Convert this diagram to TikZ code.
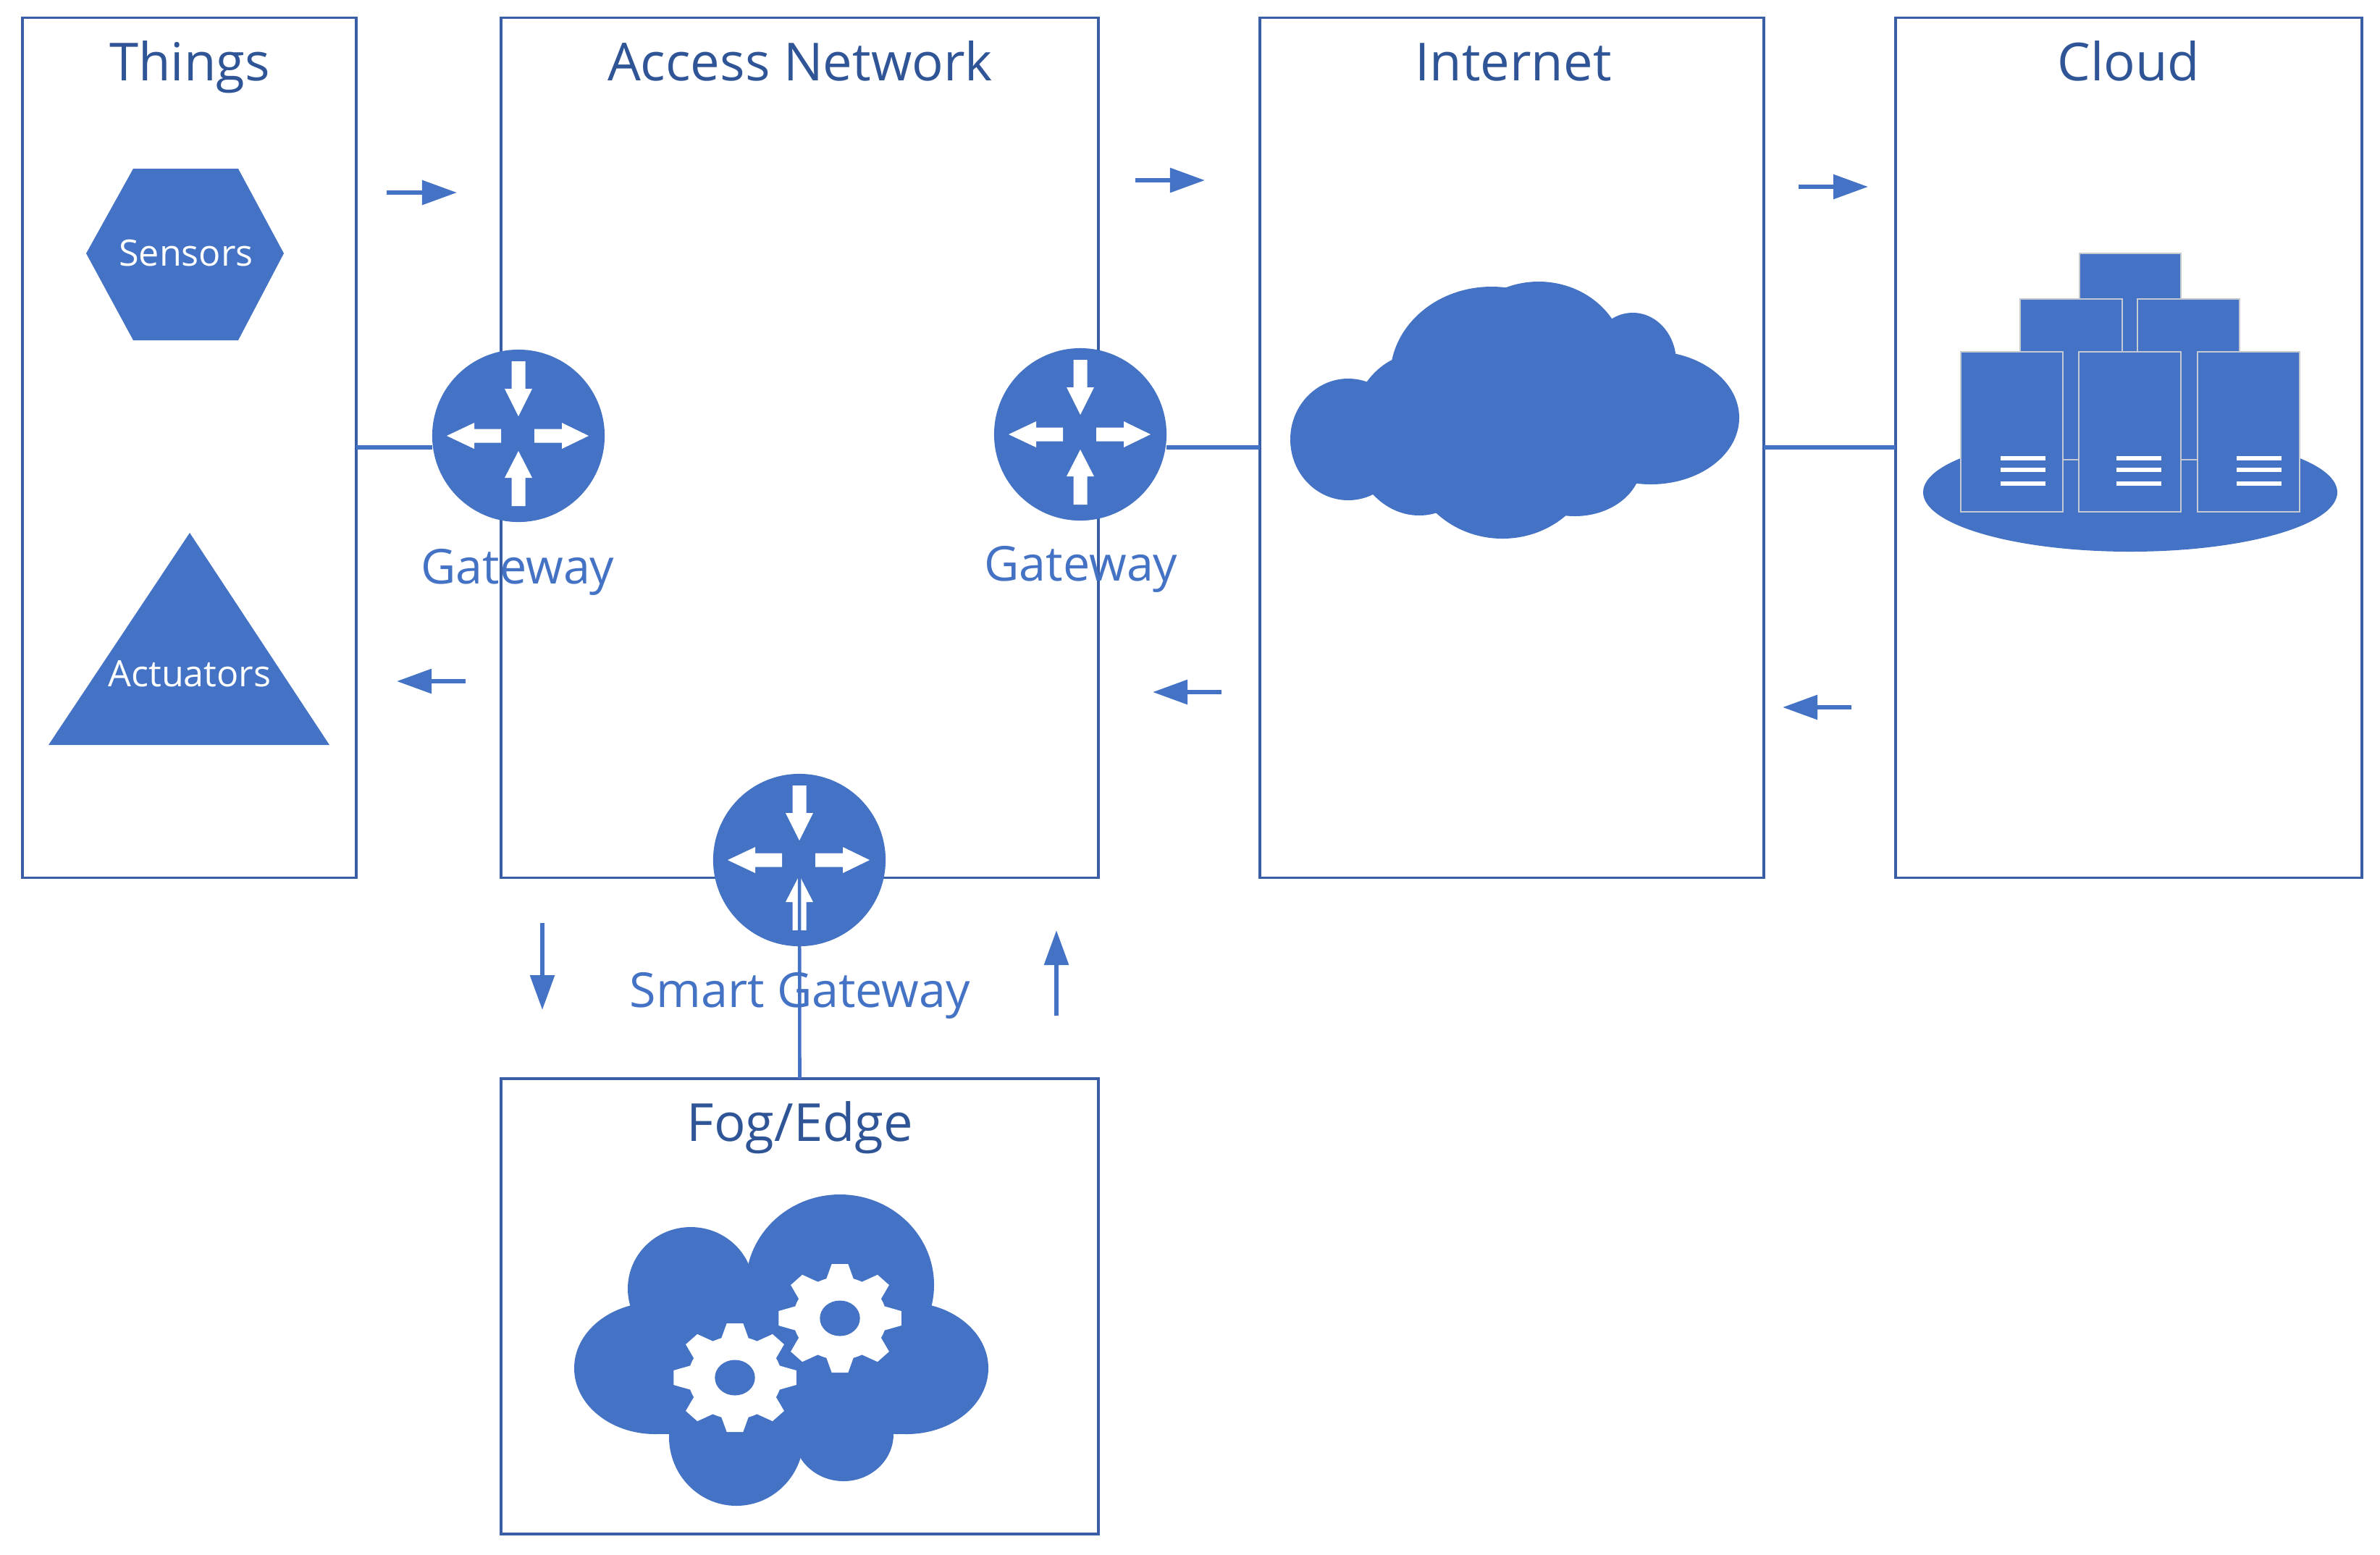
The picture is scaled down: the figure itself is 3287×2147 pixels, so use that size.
\documentclass[tikz,border=0pt]{standalone}
\usepackage{fontspec}
\setmainfont{Open Sans}
\usetikzlibrary{arrows.meta}
\definecolor{accent}{HTML}{4472C4}
\definecolor{boxline}{HTML}{3A5EA5}
\definecolor{titleblue}{HTML}{2F5597}
\definecolor{rackline}{HTML}{C4C8D0}
\tikzset{
    tier/.style={draw=boxline,line width=1pt,inner sep=0pt,outer sep=0pt},
    tiertitle/.style={text=titleblue,anchor=base,font=\fontsize{20.6}{24}\selectfont},
    gatelabel/.style={text=accent,anchor=base,font=\fontsize{18.9}{23}\selectfont},
    shapelabel/.style={text=white,font=\fontsize{14.3}{17}\selectfont},
    gateway/.style={circle,fill=accent,minimum size=2.38cm,inner sep=0pt,outer sep=0pt},
    link/.style={draw=accent,line width=1.7pt},
    flow/.style={draw=accent,line width=1.7pt,-{Triangle[length=0.48cm,width=0.33cm]}},
    rack/.style={fill=accent,draw=rackline,line width=0.8pt},
    rackbar/.style={draw=white,line width=1.6pt},
    gatemark/.pic={
        \fill[white] (-9.5,-103) -- (9.5,-103) -- (9.5,-65) -- (19,-65) -- (0,-27) -- (-19,-65) -- (-9.5,-65) -- cycle;
        \fill[white] (-9.5,97) -- (9.5,97) -- (9.5,58) -- (19,58) -- (0,21) -- (-19,58) -- (-9.5,58) -- cycle;
        \fill[white] (-24,-9.5) -- (-24,9.5) -- (-61,9.5) -- (-61,18) -- (-99,0) -- (-61,-18) -- (-61,-9.5) -- cycle;
        \fill[white] (22,-9.5) -- (22,9.5) -- (60,9.5) -- (60,18) -- (97,0) -- (60,-18) -- (60,-9.5) -- cycle;
    },
    geartooth/.style={white,line join=round,line width=1pt},
    gearmark/.pic={
        \fill[white] (0,0) circle (0.57cm);
        \fill[geartooth,rotate=0] (-18,-50) -- (-10,-75) -- (10,-75) -- (18,-50) -- cycle;
        \fill[geartooth,rotate=45] (-18,-50) -- (-10,-75) -- (10,-75) -- (18,-50) -- cycle;
        \fill[geartooth,rotate=90] (-18,-50) -- (-10,-75) -- (10,-75) -- (18,-50) -- cycle;
        \fill[geartooth,rotate=135] (-18,-50) -- (-10,-75) -- (10,-75) -- (18,-50) -- cycle;
        \fill[geartooth,rotate=180] (-18,-50) -- (-10,-75) -- (10,-75) -- (18,-50) -- cycle;
        \fill[geartooth,rotate=225] (-18,-50) -- (-10,-75) -- (10,-75) -- (18,-50) -- cycle;
        \fill[geartooth,rotate=270] (-18,-50) -- (-10,-75) -- (10,-75) -- (18,-50) -- cycle;
        \fill[geartooth,rotate=315] (-18,-50) -- (-10,-75) -- (10,-75) -- (18,-50) -- cycle;
        \fill[accent] (0,0) circle (0.245cm);
    },
}
\begin{document}
\begin{tikzpicture}[x=0.01cm,y=-0.01cm]
    \useasboundingbox (0,0) rectangle (3287,2147);

    \node[tier,minimum width=4.61cm,minimum height=11.87cm] (things) at (261.5,618.5) {};
    \node[tier,minimum width=8.25cm,minimum height=11.87cm] (access) at (1104.5,618.5) {};
    \node[tier,minimum width=6.96cm,minimum height=11.87cm] (internet) at (2088,618.5) {};
    \node[tier,minimum width=6.44cm,minimum height=11.87cm] (cloud) at (2940,618.5) {};
    \node[tier,minimum width=8.25cm,minimum height=6.29cm] (fog) at (1104.5,1804.5) {};

    \node[tiertitle] (thingstitle) at (262,111) {Things};
    \node[tiertitle] (accesstitle) at (1105,111) {Access Network};
    \node[tiertitle] (internettitle) at (2090,111) {Internet};
    \node[tiertitle] (cloudtitle) at (2940,111) {Cloud};
    \node[tiertitle] (fogtitle) at (1105,1576) {Fog/Edge};

    \fill[accent] (184,233) -- (329,233) -- (392,350) -- (329,470) -- (184,470) -- (119,350) -- cycle;
    \node[shapelabel] (sensors) at (257,350) {Sensors};
    \fill[accent] (262,736) -- (455,1029) -- (67,1029) -- cycle;
    \node[shapelabel] (actuators) at (262,931) {Actuators};

    \coordinate (linkrow) at (0,618);
    \node[gateway] (gwa) at (716,602) {};
    \node[gateway] (gwb) at (1492,600) {};
    \node[gateway] (gwc) at (1104,1188) {};
    \pic at (gwa) {gatemark};
    \pic at (gwb) {gatemark};
    \pic at (gwc) {gatemark};
    \node[gatelabel] (gwalabel) at (715,806) {Gateway};
    \node[gatelabel] (gwblabel) at (1493,802) {Gateway};
    \node[gatelabel] (gwclabel) at (1105,1391) {Smart Gateway};

    \draw[link] (things.east |- linkrow) -- (gwa.west |- linkrow);
    \draw[link] (gwb.east |- linkrow) -- (internet.west |- linkrow);
    \draw[link] (internet.east |- linkrow) -- (cloud.west |- linkrow);
    \draw[link,line width=1.3pt] (fog.north) -- (gwc.center);

    \coordinate (upa) at (534,266);
    \coordinate (upb) at (631,266);
    \coordinate (upc) at (1568,249);
    \coordinate (upd) at (1664,249);
    \coordinate (upe) at (2484,258);
    \coordinate (upf) at (2580,258);
    \coordinate (downa) at (643,941);
    \coordinate (downb) at (548,941);
    \coordinate (downc) at (1687,956);
    \coordinate (downd) at (1592,956);
    \coordinate (downe) at (2557,977);
    \coordinate (downf) at (2462,977);
    \coordinate (foga) at (749,1275);
    \coordinate (fogb) at (749,1395);
    \coordinate (fogc) at (1459,1403);
    \coordinate (fogd) at (1459,1285);
    \draw[flow] (upa) -- (upb);
    \draw[flow] (upc) -- (upd);
    \draw[flow] (upe) -- (upf);
    \draw[flow] (downa) -- (downb);
    \draw[flow] (downc) -- (downd);
    \draw[flow] (downe) -- (downf);
    \draw[flow] (foga) -- (fogb);
    \draw[flow] (fogc) -- (fogd);

    % internet cloud
    \fill[accent] (1862,607) ellipse [x radius=80,y radius=84];
    \fill[accent] (1960,600) ellipse [x radius=95,y radius=112];
    \fill[accent] (2060,520) ellipse [x radius=140,y radius=124];
    \fill[accent] (2125,500) ellipse [x radius=120,y radius=111];
    \fill[accent] (2255,500) ellipse [x radius=60,y radius=68];
    \fill[accent] (2280,577) ellipse [x radius=122,y radius=92];
    \fill[accent] (2175,640) ellipse [x radius=92,y radius=73];
    \fill[accent] (2075,622) ellipse [x radius=130,y radius=122];
    \fill[accent] (1935,640) ellipse [x radius=50,y radius=60];
    \fill[accent] (1880,530) rectangle (2300,640);

    % server racks
    \fill[accent] (2942,680) ellipse [x radius=286,y radius=82];
    \draw[rack] (2872,350) rectangle (3012,500);
    \draw[rack] (2790,413) rectangle (2931,635);
    \draw[rack] (2952,413) rectangle (3093,635);
    \draw[rack] (2708,486) rectangle (2849,707);
    \draw[rack] (2871,486) rectangle (3012,707);
    \draw[rack] (3035,486) rectangle (3176,707);
    \draw[rackbar] (2763,633) -- (2825,633);
    \draw[rackbar] (2763,649) -- (2825,649);
    \draw[rackbar] (2763,668) -- (2825,668);
    \draw[rackbar] (2923,633) -- (2985,633);
    \draw[rackbar] (2923,649) -- (2985,649);
    \draw[rackbar] (2923,668) -- (2985,668);
    \draw[rackbar] (3089,633) -- (3151,633);
    \draw[rackbar] (3089,649) -- (3151,649);
    \draw[rackbar] (3089,668) -- (3151,668);

    % fog cloud
    \fill[accent] (954,1780) ellipse [x radius=87,y radius=85];
    \fill[accent] (1160,1775) ellipse [x radius=130,y radius=125];
    \fill[accent] (1252,1890) ellipse [x radius=113,y radius=91];
    \fill[accent] (905,1890) ellipse [x radius=112,y radius=91];
    \fill[accent] (1017,1985) ellipse [x radius=93,y radius=95];
    \fill[accent] (1165,1981) ellipse [x radius=69,y radius=65];
    \fill[accent] (905,1810) rectangle (1252,1981);
    \pic[xscale=1.13] at (1160,1821) {gearmark};
    \pic[xscale=1.13] at (1015,1903) {gearmark};
\end{tikzpicture}
\end{document}
